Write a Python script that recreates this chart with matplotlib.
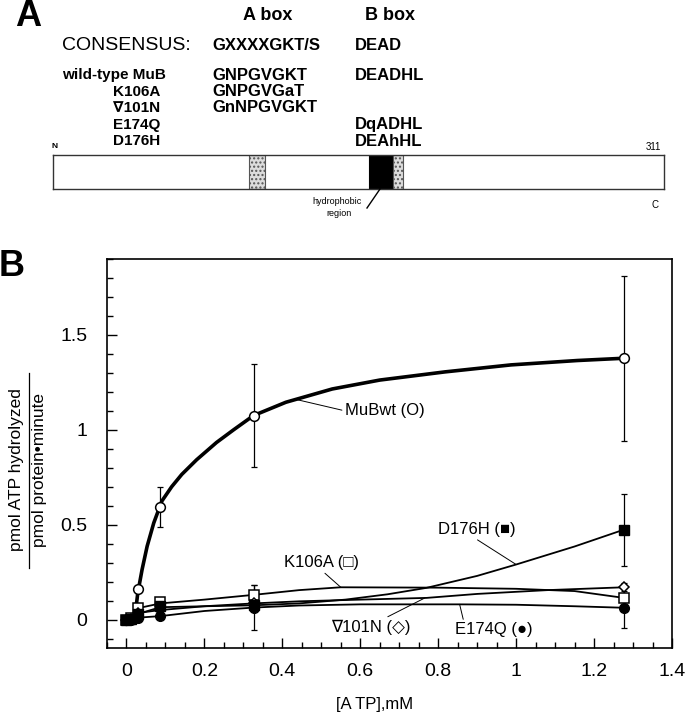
import matplotlib
matplotlib.use('Agg')
import matplotlib.pyplot as plt
from matplotlib.lines import Line2D
from matplotlib.patches import Rectangle
from matplotlib.ticker import MultipleLocator

plt.rcParams['font.family'] = ['Liberation Sans', 'DejaVu Sans']
plt.rcParams['hatch.color'] = '#999999'

W, H = 685, 723

# ---------------- Panel A data ----------------
protein_len = 311
abox_res = (100, 108)
hydrophobic_res = (161, 173)
bbox_res = (173, 178)

mutant_names = ["wild-type MuB", "K106A", "\u2207101N", "E174Q", "D176H"]
abox_seqs = ["GNPGVGKT", "GNPGVGaT", "GnNPGVGKT", "", ""]
bbox_seqs = ["DEADHL", "", "", "DqADHL", "DEAhHL"]
consensus_a = "GXXXXGKT/S"
consensus_b = "DEAD"

# ---------------- Panel B data ----------------
atp_mM = [0, 0.012, 0.03, 0.087, 0.326, 1.277]

wt_x = [0, 0.03, 0.087, 0.326, 1.277]
wt_y = [0, 0.163, 0.593, 1.075, 1.377]
wt_err = [0, 0, 0.105, 0.27, 0.435]
wt_fit_x = [0.022, 0.029, 0.040, 0.053, 0.070, 0.091, 0.116, 0.142, 0.180, 0.231,
            0.275, 0.326, 0.409, 0.528, 0.65, 0.817, 0.987, 1.157, 1.277]
wt_fit_y = [0.02, 0.14, 0.263, 0.386, 0.509, 0.625, 0.70, 0.765, 0.842, 0.933,
            1.0, 1.075, 1.145, 1.215, 1.262, 1.305, 1.342, 1.365, 1.377]

k106a_y = [0, 0.01, 0.06, 0.09, 0.13, 0.114]
k106a_err = [0, 0, 0.015, 0.02, 0.05, 0.02]
k106a_fit_x = [0.012, 0.03, 0.087, 0.2, 0.326, 0.443, 0.55, 0.8, 1.0, 1.15, 1.277]
k106a_fit_y = [0.01, 0.06, 0.085, 0.105, 0.13, 0.155, 0.17, 0.168, 0.162, 0.15, 0.114]

d101n_y = [0, 0.005, 0.035, 0.05, 0.085, 0.17]
d101n_err = [0, 0, 0, 0.01, 0.02, 0.02]
d101n_fit_x = [0.012, 0.03, 0.087, 0.2, 0.326, 0.443, 0.6, 0.77, 0.9, 1.08, 1.277]
d101n_fit_y = [0.005, 0.035, 0.05, 0.07, 0.085, 0.096, 0.105, 0.114, 0.135, 0.155, 0.17]

e174q_y = [0, 0.0, 0.01, 0.018, 0.063, 0.062]
e174q_err = [0, 0, 0, 0.015, 0.12, 0.105]
e174q_fit_x = [0.012, 0.03, 0.087, 0.2, 0.326, 0.443, 0.6, 0.855, 1.0, 1.15, 1.277]
e174q_fit_y = [0.0, 0.01, 0.018, 0.045, 0.063, 0.074, 0.08, 0.08, 0.078, 0.07, 0.062]

d176h_y = [0, 0.005, 0.03, 0.07, 0.075, 0.474]
d176h_err = [0, 0, 0, 0.02, 0.02, 0.19]
d176h_fit_x = [0.012, 0.03, 0.087, 0.2, 0.326, 0.443, 0.562, 0.67, 0.77, 0.9, 1.0, 1.15, 1.277]
d176h_fit_y = [0.005, 0.03, 0.065, 0.07, 0.075, 0.085, 0.105, 0.133, 0.167, 0.23, 0.29, 0.385, 0.474]

fig = plt.figure(figsize=(W / 100, H / 100), dpi=100)


def ftext(x, y, s, **kw):
    return fig.text(x / W, 1 - y / H, s, **kw)


# ---------------- Panel A ----------------
ftext(28, 16, "A", fontsize=26, fontweight='bold', ha='center', va='center')
ftext(268, 16, "A box", fontsize=13, fontweight='bold', ha='center', va='center')
ftext(390, 16, "B box", fontsize=13, fontweight='bold', ha='center', va='center')
ftext(62, 46, "CONSENSUS:", fontsize=14, ha='left', va='center')
ftext(212, 46, consensus_a, fontsize=12, fontweight='bold', ha='left', va='center')
ftext(355, 46, consensus_b, fontsize=12, fontweight='bold', ha='left', va='center')

row_y = [75, 92, 108, 125, 141]
for i, (name, a, b) in enumerate(zip(mutant_names, abox_seqs, bbox_seqs)):
    x0 = 62 if i == 0 else 113
    ftext(x0, row_y[i], name, fontsize=11, fontweight='bold', ha='left', va='center')
    if a:
        ftext(212, row_y[i], a, fontsize=12, fontweight='bold', ha='left', va='center')
    if b:
        ftext(355, row_y[i], b, fontsize=12, fontweight='bold', ha='left', va='center')

ftext(55, 146, "N", fontsize=6, fontweight='bold', ha='center', va='center')
ftext(653, 147, "311", fontsize=7, ha='center', va='center')
ftext(655, 205, "C", fontsize=7, ha='center', va='center')
ftext(337, 202, "hydrophobic", fontsize=6.5, ha='center', va='center')
ftext(339, 213, "region", fontsize=6.5, ha='center', va='center')
fig.add_artist(Line2D([367 / W, 380 / W], [1 - 208 / H, 1 - 189 / H], color='k', lw=1.0))

bar_l, bar_r, bar_t, bar_b = 53, 664, 155, 189
axA = fig.add_axes([bar_l / W, 1 - bar_b / H, (bar_r - bar_l) / W, (bar_b - bar_t) / H])
axA.set_xlim(0, protein_len)
axA.set_ylim(0, 1)
axA.set_xticks([])
axA.set_yticks([])
for s in axA.spines.values():
    s.set_linewidth(1.0)
    s.set_color('#333333')
axA.add_patch(Rectangle((abox_res[0], 0), abox_res[1] - abox_res[0], 1,
                        facecolor='#dcdcdc', edgecolor='#555555', lw=0.8, hatch='....'))
axA.add_patch(Rectangle((hydrophobic_res[0], 0), hydrophobic_res[1] - hydrophobic_res[0], 1,
                        facecolor='black', edgecolor='black', lw=0.8))
axA.add_patch(Rectangle((bbox_res[0], 0), bbox_res[1] - bbox_res[0], 1,
                        facecolor='#dcdcdc', edgecolor='#555555', lw=0.8, hatch='....'))

# ---------------- Panel B ----------------
ftext(12, 266, "B", fontsize=26, fontweight='bold', ha='center', va='center')

ax_l, ax_r, ax_t, ax_b = 107, 672, 259, 648
ax = fig.add_axes([ax_l / W, 1 - ax_b / H, (ax_r - ax_l) / W, (ax_b - ax_t) / H])
ax.set_xlim(-0.05, 1.4)
ax.set_ylim(-0.15, 1.9)

# fitted curves
ax.plot(wt_fit_x, wt_fit_y, color='black', lw=2.6, solid_capstyle='round',
        solid_joinstyle='round', zorder=3)
for fx, fy in [(k106a_fit_x, k106a_fit_y), (d101n_fit_x, d101n_fit_y),
               (e174q_fit_x, e174q_fit_y), (d176h_fit_x, d176h_fit_y)]:
    ax.plot(fx, fy, color='black', lw=1.3, zorder=3)

eb_kw = dict(fmt='none', ecolor='black', elinewidth=0.9, capsize=2.5, capthick=0.9, zorder=2)
ax.errorbar(wt_x, wt_y, yerr=wt_err, **eb_kw)
ax.errorbar(atp_mM, k106a_y, yerr=k106a_err, **eb_kw)
ax.errorbar(atp_mM, d101n_y, yerr=d101n_err, **eb_kw)
ax.errorbar(atp_mM, e174q_y, yerr=e174q_err, **eb_kw)
ax.errorbar(atp_mM, d176h_y, yerr=d176h_err, **eb_kw)

ax.plot(wt_x, wt_y, 'o', ms=7, mfc='white', mec='black', mew=1.1, zorder=4)
ax.plot(atp_mM, k106a_y, 's', ms=7, mfc='white', mec='black', mew=1.1, zorder=4)
ax.plot(atp_mM, d101n_y, 'D', ms=5, mfc='white', mec='black', mew=1.1, zorder=4)
ax.plot(atp_mM, e174q_y, 'o', ms=7, mfc='black', mec='black', zorder=4)
ax.plot(atp_mM, d176h_y, 's', ms=7, mfc='black', mec='black', zorder=4)

ap = dict(arrowstyle='-', color='black', lw=0.7, shrinkA=0, shrinkB=0)
ax.annotate("MuBwt (O)", xy=(0.435, 1.16), xytext=(0.56, 1.10), fontsize=12,
            ha='left', va='center', arrowprops=dict(ap, relpos=(0, 0.5)))
ax.annotate("D176H (\u25A0)", xy=(1.0, 0.29), xytext=(0.80, 0.474), fontsize=12,
            ha='left', va='center', arrowprops=dict(ap, relpos=(0.45, 0)))
ax.annotate("K106A (\u25A1)", xy=(0.55, 0.17), xytext=(0.405, 0.298), fontsize=12,
            ha='left', va='center', arrowprops=dict(ap, relpos=(0.5, 0)))
ax.annotate("\u2207101N (\u25C7)", xy=(0.766, 0.114), xytext=(0.524, -0.04), fontsize=12,
            ha='left', va='center', arrowprops=dict(ap, relpos=(0.65, 1)))
ax.annotate("E174Q (\u25CF)", xy=(0.855, 0.08), xytext=(0.842, -0.053), fontsize=12,
            ha='left', va='center', arrowprops=dict(ap, relpos=(0.12, 1)))

ax.xaxis.set_minor_locator(MultipleLocator(0.05))
ax.yaxis.set_minor_locator(MultipleLocator(0.1))
ax.set_xticks([0, 0.2, 0.4, 0.6, 0.8, 1.0, 1.2, 1.4])
ax.set_xticklabels(["0", "0.2", "0.4", "0.6", "0.8", "1", "1.2", "1.4"])
ax.set_yticks([0, 0.5, 1.0, 1.5])
ax.set_yticklabels(["0", "0.5", "1", "1.5"])
ax.tick_params(which='both', direction='in', top=False, right=False, width=1.0)
ax.tick_params(which='major', length=7, labelsize=14, pad=11)
ax.tick_params(which='minor', length=4)
ax.tick_params(axis='y', which='major', pad=14)
for s in ax.spines.values():
    s.set_linewidth(1.2)

ftext(375, 705, "[A TP],mM", fontsize=12, ha='center', va='center')
ftext(17, 470, "pmol ATP hydrolyzed", fontsize=12.5, rotation=90, ha='center', va='center')
ftext(40, 470, "pmol protein\u2022minute", fontsize=12.5, rotation=90, ha='center', va='center')
fig.add_artist(Line2D([28.5 / W, 28.5 / W], [1 - 373 / H, 1 - 568 / H], color='black', lw=0.9))

fig.savefig('out.png', dpi=100)
